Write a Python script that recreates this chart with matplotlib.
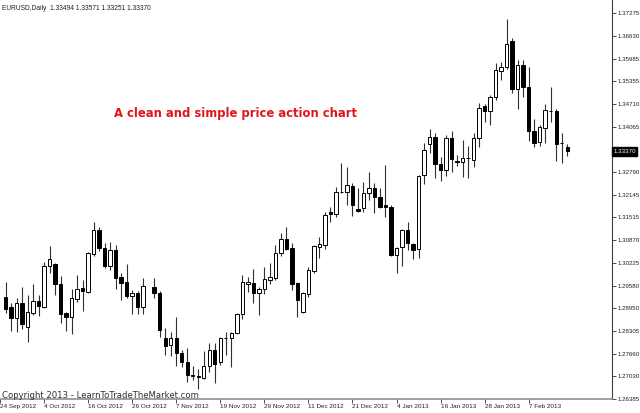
import matplotlib
matplotlib.use('Agg')
import matplotlib.pyplot as plt
from matplotlib.patches import Rectangle
from matplotlib.transforms import blended_transform_factory

# ---- data (EURUSD daily) ----
opens = [1.29263, 1.28981, 1.28671, 1.29094, 1.28417, 1.28812, 1.29151, 1.28981, 1.30139, 1.30195,
         1.29630, 1.28812, 1.28699, 1.29207, 1.29517, 1.29405, 1.30477, 1.31154, 1.30646, 1.30139,
         1.30590, 1.29828, 1.29687, 1.29292, 1.29376, 1.28981, None, 1.29545, 1.29376, 1.28106,
         1.27909, 1.28106, 1.27683, 1.27430, 1.27063, 1.27035, 1.26977, 1.27317, 1.27768, 1.27430,
         1.28106, 1.28106, 1.28247, 1.28784, 1.29630, 1.29658, 1.29376, 1.29489, 1.29743, 1.29800,
         1.30505, 1.30900, 1.30646, 1.29658, 1.28841, 1.29348, 1.29998, 1.30675, 1.30731, 1.31663,
         1.31606, 1.32227, 1.32227, 1.32396, 1.31747, 1.31775, 1.32198, 1.32339, 1.32086, 1.31860,
         1.31803, 1.30449, 1.30675, 1.31154, 1.30759, 1.30618, 1.32707, 1.33581, 1.33779, 1.33017,
         1.32848, 1.33750, 1.33102, 1.33074, 1.33186, 1.33130, 1.33750, 1.34654, 1.34513, 1.34908,
         1.35641, 1.35754, 1.36488, 1.35133, 1.35811, 1.35190, 1.33948, 1.33637, 1.34033, 1.34513,
         1.34513, 1.33609, 1.33494]
highs = [1.29687, 1.29094, 1.29235, 1.29545, 1.29320, 1.29630, 1.29320, 1.30252, 1.30703, 1.30223,
         1.29857, 1.28830, 1.29489, 1.29885, 1.29743, 1.30534, 1.31381, 1.31239, 1.30787, 1.30816,
         1.30731, 1.29941, 1.30195, 1.29461, 1.29433, 1.29800, None, 1.29800, 1.29433, 1.28389,
         1.28276, 1.28699, 1.27768, 1.27824, 1.27317, 1.27232, 1.27740, 1.27965, 1.27965, 1.28134,
         1.28276, 1.28276, 1.28812, 1.29885, 1.29828, 1.30054, 1.29545, 1.30110, 1.30223, 1.30731,
         1.31069, 1.31239, 1.30787, 1.29687, 1.29405, 1.30110, 1.30731, 1.30956, 1.31663, 1.31803,
         1.32368, 1.33045, 1.32933, 1.32480, 1.32339, 1.32509, 1.32792, 1.32480, 1.32339, 1.32989,
         1.31860, 1.30675, 1.31183, 1.31381, 1.30787, 1.32707, 1.33609, 1.34004, 1.33891, 1.33215,
         1.33835, 1.33948, 1.33271, 1.33694, 1.33525, 1.33891, 1.34738, 1.34710, 1.34964, 1.35867,
         1.35895, 1.37109, 1.36572, 1.35952, 1.35952, 1.35754, 1.34287, 1.34118, 1.34710, 1.35190,
         1.34569, 1.33891, 1.33571]
lows = [1.28812, 1.28304, 1.28276, 1.28361, 1.27994, 1.28756, 1.28728, 1.28953, 1.29941, 1.29320,
        1.28530, 1.28304, 1.28219, 1.29123, 1.28869, 1.29376, 1.30421, 1.30562, 1.30082, 1.30026,
        1.29489, 1.29179, 1.29235, 1.28784, 1.28784, 1.28784, None, 1.29235, 1.28134, 1.27627,
        1.27599, 1.27317, 1.27288, 1.26865, 1.26921, 1.26667, 1.26949, 1.27148, 1.26836, 1.27345,
        1.27627, 1.27288, 1.28219, 1.28643, 1.29405, 1.29094, 1.28756, 1.29348, 1.29630, 1.29743,
        1.30421, 1.30590, 1.29461, 1.28699, 1.28812, 1.29263, 1.29941, 1.30364, 1.30618, 1.31381,
        1.31522, 1.32198, 1.31860, 1.31550, 1.31663, 1.31663, 1.32001, 1.31634, 1.31775, 1.31522,
        1.30421, 1.29941, 1.30139, 1.30590, 1.30336, 1.30364, 1.32452, 1.33327, 1.32622, 1.32537,
        1.32678, 1.32792, 1.32961, 1.32650, 1.32622, 1.32933, 1.33497, 1.34202, 1.34118, 1.34823,
        1.35387, 1.35698, 1.35020, 1.34569, 1.34908, 1.33666, 1.33497, 1.33525, 1.33609, 1.34202,
        1.33102, 1.33045, 1.33251]
closes = [1.28925, 1.28671, 1.29094, 1.28502, 1.28841, 1.29151, 1.29010, 1.30139, 1.30336, 1.29630,
          1.28784, 1.28699, 1.29235, 1.29489, 1.29433, 1.30505, 1.31154, 1.30646, 1.30139, 1.30590,
          1.29800, 1.29658, 1.29292, 1.29376, 1.28981, 1.29574, None, 1.29376, 1.28332, 1.27881,
          1.28106, 1.27683, 1.27430, 1.27063, 1.27035, 1.27007, 1.27317, 1.27768, 1.27373, 1.28106,
          1.28110, 1.28247, 1.28784, 1.29687, 1.29687, 1.29376, 1.29489, 1.29771, 1.29828, 1.30505,
          1.30900, 1.30618, 1.29630, 1.29179, 1.29376, 1.30026, 1.30703, 1.30759, 1.31578, 1.31606,
          1.32227, 1.32230, 1.32424, 1.31860, 1.31691, 1.32198, 1.32339, 1.32086, 1.31803, 1.31803,
          1.30449, 1.30646, 1.31154, 1.30787, 1.30590, 1.32678, 1.33412, 1.33779, 1.33017, 1.32848,
          1.33750, 1.33158, 1.33074, 1.33186, 1.33190, 1.33750, 1.34597, 1.34513, 1.34908, 1.35670,
          1.35754, 1.36403, 1.35133, 1.35811, 1.35190, 1.33948, 1.33609, 1.34061, 1.34541, 1.34510,
          1.33581, 1.33605, 1.33370]

price_ticks = [1.37275, 1.36630, 1.35985, 1.35355, 1.34710, 1.34065, 1.32790, 1.32145,
               1.31515, 1.30870, 1.30225, 1.29580, 1.28950, 1.28305, 1.27660, 1.27030, 1.26385]
date_tick_bars = [-1, 7, 15, 23, 31, 39, 47, 55, 63, 71, 79, 87, 95]
date_labels = ["24 Sep 2012", "4 Oct 2012", "16 Oct 2012", "26 Oct 2012", "7 Nov 2012",
               "19 Nov 2012", "29 Nov 2012", "11 Dec 2012", "21 Dec 2012", "4 Jan 2013",
               "16 Jan 2013", "28 Jan 2013", "7 Feb 2013"]
symbol = "EURUSD,Daily"
title_text = "A clean and simple price action chart"
copyright_text = "Copyright 2013 - LearnToTradeTheMarket.com"

# ---- figure ----
W, H = 640, 413
fig = plt.figure(figsize=(W / 100, H / 100), dpi=100)
fig.patch.set_facecolor('white')
ax = fig.add_axes([0, 14 / H, 612 / W, 399 / H])
ax.set_xlim(-0.54, 110.13)
ax.set_ylim(1.26385, 1.37645)

body_w = 0.62
for i, (o, h, l, c) in enumerate(zip(opens, highs, lows, closes)):
    if o is None:
        continue
    ax.plot([i, i], [l, h], color='#303030', lw=0.8, solid_capstyle='butt', zorder=2)
    bull = c >= o
    lo, hi = min(o, c), max(o, c)
    ax.add_patch(Rectangle((i - body_w / 2, lo), body_w, hi - lo,
                           facecolor='white' if bull else 'black',
                           edgecolor='black', lw=0.7, zorder=3))

for s in ['top', 'left']:
    ax.spines[s].set_visible(False)
ax.spines['right'].set_color('#404040')
ax.spines['bottom'].set_color('#909090')
ax.spines['right'].set_linewidth(0.8)
ax.spines['bottom'].set_linewidth(1.2)

ax.yaxis.tick_right()
ax.set_yticks(price_ticks)
ax.set_yticklabels([f"{p:.5f}" for p in price_ticks])
ax.tick_params(axis='y', direction='out', length=3, width=0.6, colors='#303030',
               labelsize=4.4, pad=1.0)
ax.set_xticks(date_tick_bars)
ax.set_xticklabels(date_labels, ha='left')
ax.tick_params(axis='x', direction='out', length=3, width=0.6, colors='#303030',
               labelsize=4.6, pad=0.5)
for lab in ax.get_xticklabels() + ax.get_yticklabels():
    lab.set_fontfamily('Liberation Sans')
    lab.set_color('#202020')

# current price marker
tr = blended_transform_factory(ax.transAxes, ax.transData)
ax.text(1.002, closes[-1], f"{closes[-1]:.5f}", transform=tr, ha='left', va='center',
        fontsize=4.4, family='Liberation Sans', color='white',
        bbox=dict(boxstyle='square,pad=0.25', facecolor='black', edgecolor='black'),
        clip_on=False, zorder=5)

# header
fig.text(2 / W, 1 - 8 / H,
         f"{symbol}  {opens[-1]:.5f} {highs[-1]:.5f} {lows[-1]:.5f} {closes[-1]:.5f}",
         ha='left', va='center', fontsize=4.8, family='Liberation Sans', color='#202020')

fig.text(236 / W, 1 - 114 / H, title_text, ha='center', va='center', fontsize=8.4,
         family='DejaVu Sans', fontweight='bold', color='#e3141b')

fig.text(2 / W, 1 - 396 / H, copyright_text, ha='left', va='center', fontsize=6.15,
         family='DejaVu Sans', color='#303030')

fig.savefig('out.png', dpi=100, facecolor='white')
